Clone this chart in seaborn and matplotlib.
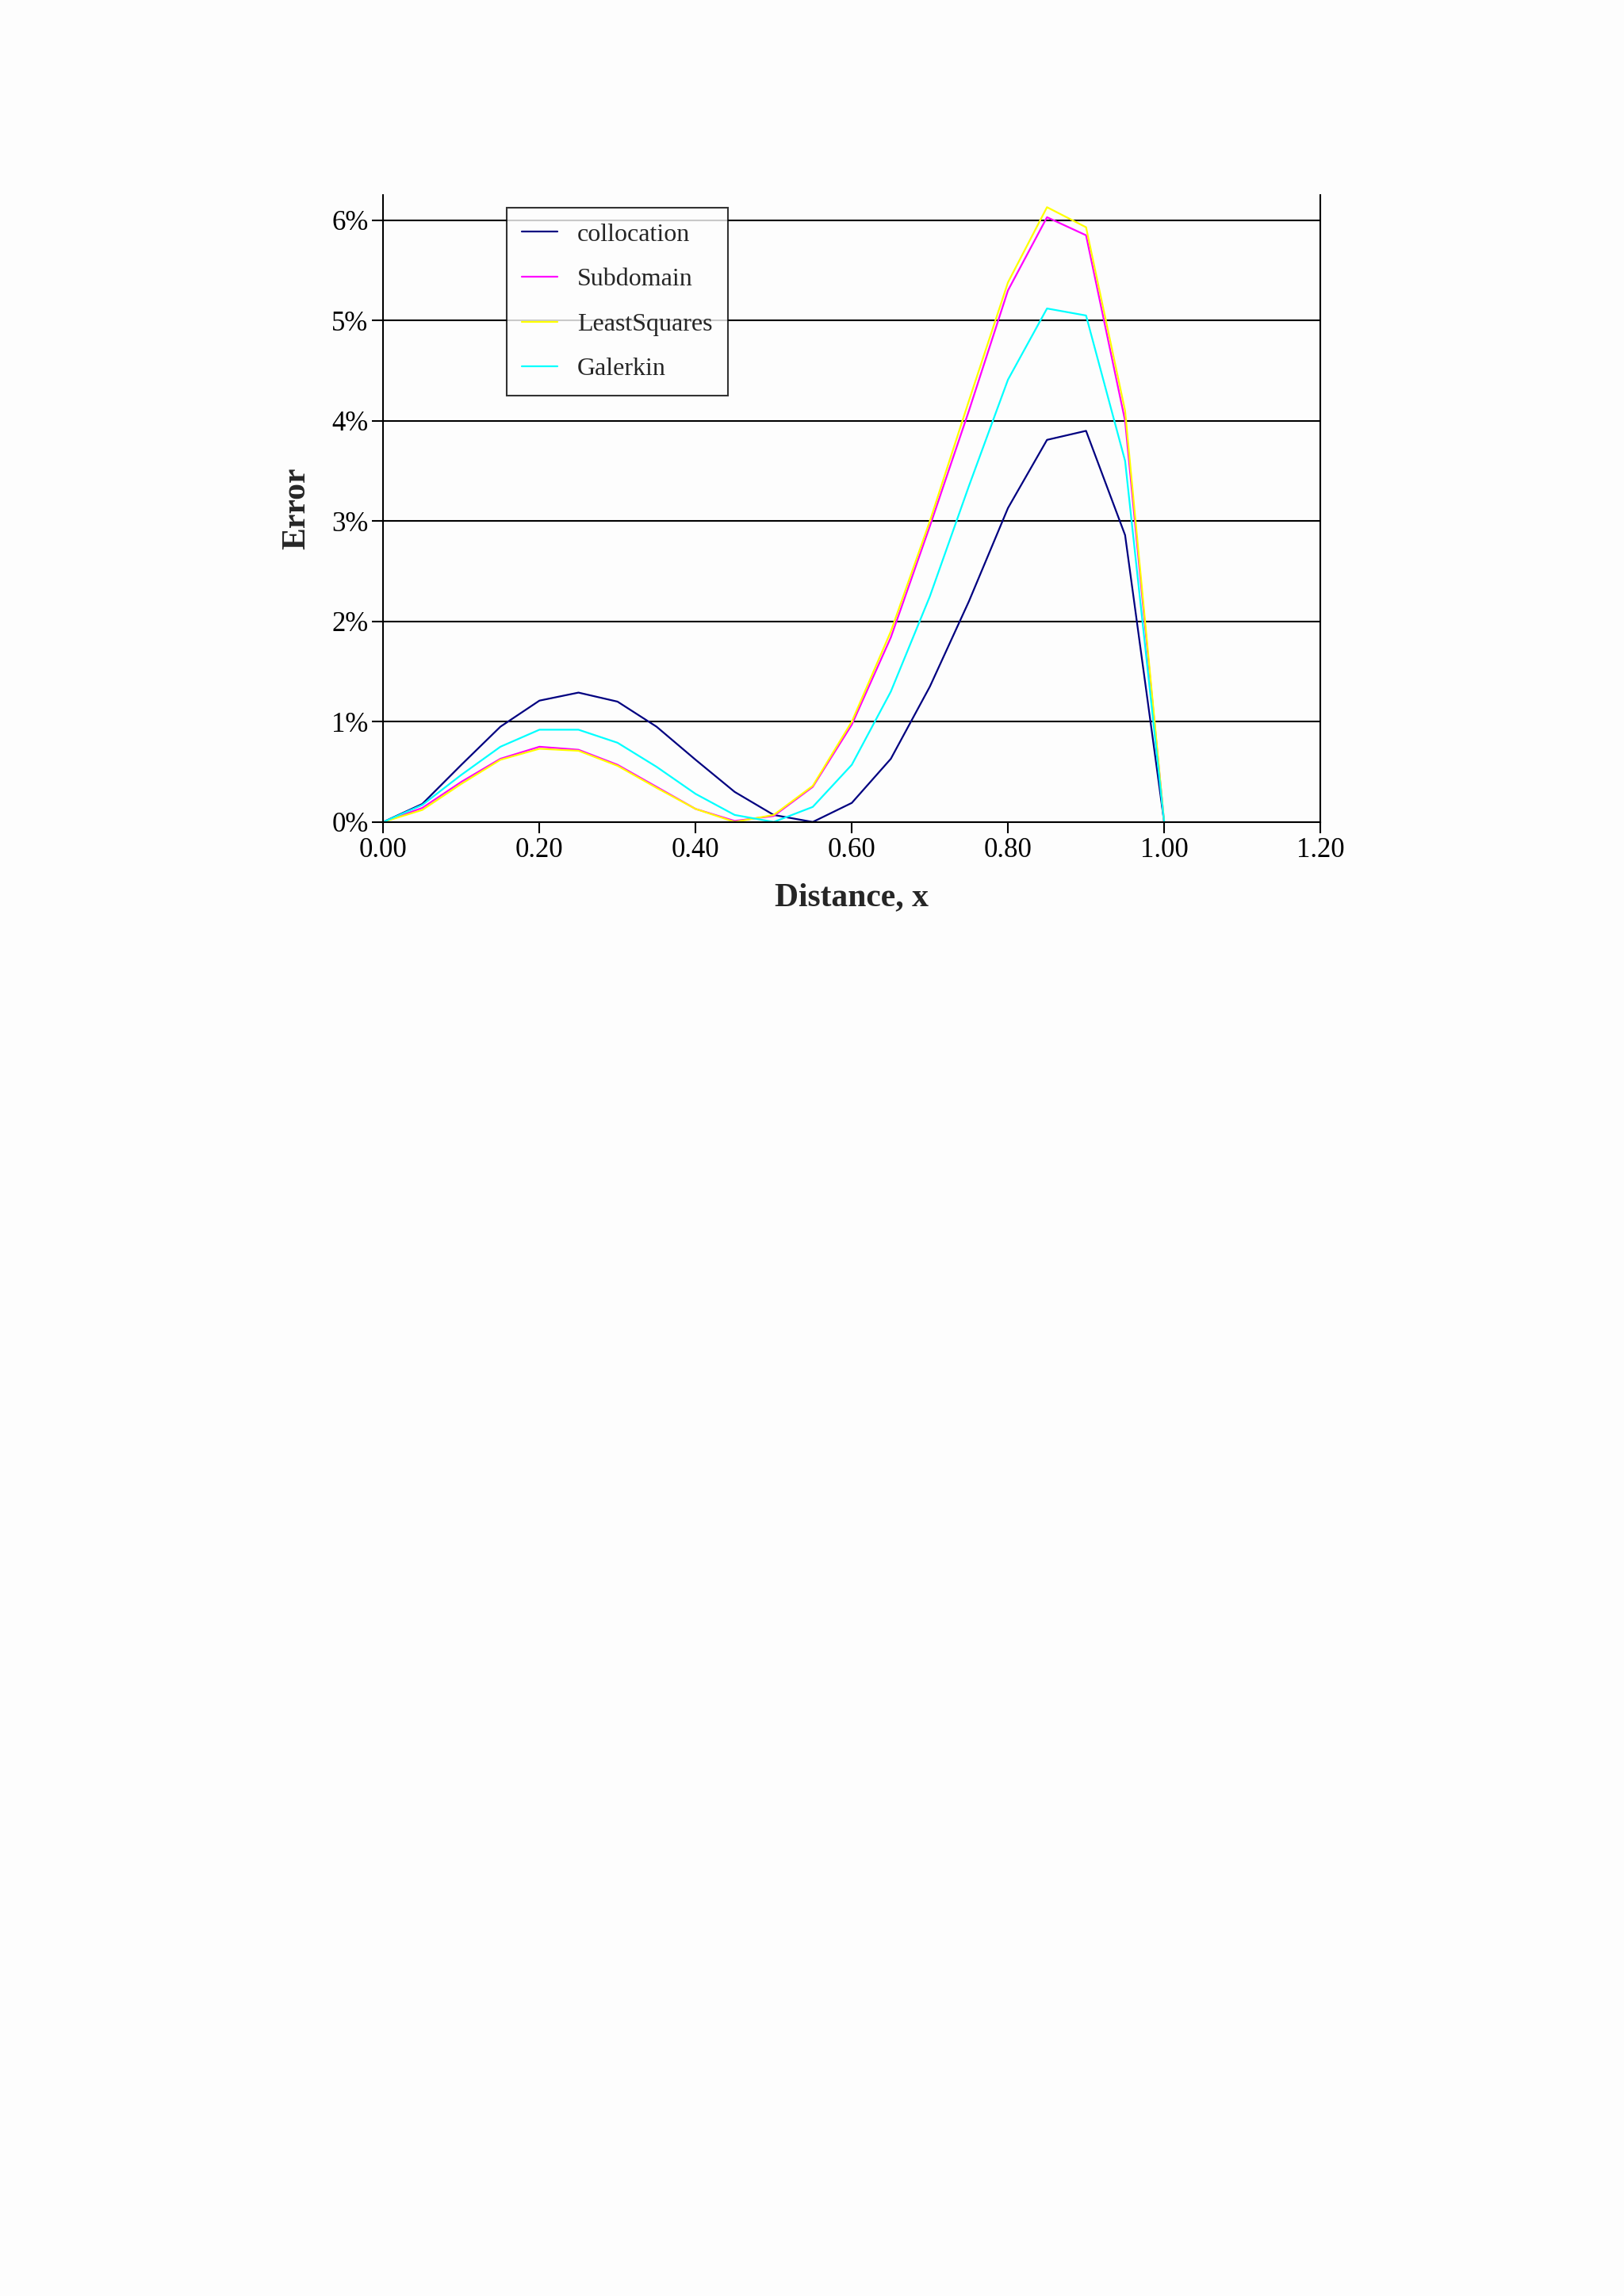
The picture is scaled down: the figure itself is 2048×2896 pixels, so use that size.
import numpy as np
import pandas as pd
import seaborn as sns
import matplotlib.pyplot as plt
from matplotlib.ticker import FuncFormatter

# Dados (erro em %)
distancia = [0.00, 0.05, 0.10, 0.15, 0.20, 0.25, 0.30, 0.35, 0.40, 0.45, 0.50,
             0.55, 0.60, 0.65, 0.70, 0.75, 0.80, 0.85, 0.90, 0.95, 1.00]
collocation = [0, 0.18, 0.57, 0.95, 1.21, 1.29, 1.20, 0.95, 0.62, 0.30, 0.07,
               0.0, 0.19, 0.63, 1.35, 2.20, 3.13, 3.81, 3.90, 2.86, 0]
subdomain = [0, 0.14, 0.40, 0.63, 0.75, 0.72, 0.57, 0.35, 0.13, 0.01, 0.06,
             0.35, 0.97, 1.84, 2.95, 4.10, 5.30, 6.03, 5.85, 4.00, 0]
least_squares = [0, 0.12, 0.38, 0.62, 0.73, 0.71, 0.56, 0.34, 0.13, 0.0, 0.07,
                 0.36, 1.00, 1.90, 3.00, 4.20, 5.38, 6.13, 5.93, 4.10, 0]
galerkin = [0, 0.17, 0.47, 0.75, 0.92, 0.92, 0.79, 0.55, 0.28, 0.07, 0.0,
            0.15, 0.57, 1.30, 2.25, 3.35, 4.41, 5.12, 5.05, 3.60, 0]

series = {'collocation': collocation, 'Subdomain': subdomain,
          'LeastSquares': least_squares, 'Galerkin': galerkin}
cores = ['#000080', '#ff00ff', '#ffff00', '#00ffff']

dados = pd.DataFrame([(x, nome, v) for nome, vals in series.items()
                      for x, v in zip(distancia, vals)],
                     columns=['x', 'metodo', 'erro'])

sns.set_style('white')
plt.rcParams['font.family'] = ['Liberation Serif', 'DejaVu Serif']

fig = plt.figure(figsize=(20.48, 28.96), dpi=100)
fig.patch.set_facecolor('#fdfdfd')
ax = fig.add_axes([0.236, 0.642, 0.577, 0.273])
ax.set_facecolor('#fdfdfd')

sns.lineplot(data=dados, x='x', y='erro', hue='metodo', palette=cores,
             linewidth=1.6, ax=ax, legend=True)

ax.set_xlim(0, 1.2)
ax.set_ylim(0, 6.25)
ax.set_xticks(np.arange(0, 1.21, 0.2))
ax.set_yticks(range(7))
ax.xaxis.set_major_formatter(FuncFormatter(lambda v, p: f'{v:.2f}'))
ax.yaxis.set_major_formatter(FuncFormatter(lambda v, p: f'{v:.0f}%'))
ax.grid(axis='y', color='black', linewidth=1.5)
ax.set_axisbelow(True)
for s in ['left', 'right', 'bottom']:
    ax.spines[s].set_color('black')
    ax.spines[s].set_linewidth(1.5)
ax.spines['top'].set_visible(False)
ax.tick_params(axis='both', direction='out', length=10, width=1.5,
               labelsize=25, colors='black', left=True, bottom=True)
ax.set_xlabel('Distance, x', fontsize=30, fontweight='bold', labelpad=18)
ax.set_ylabel('Error', fontsize=30, fontweight='bold', labelpad=18)

leg = ax.legend(loc='upper left', bbox_to_anchor=(0.118, 1.0), fontsize=23,
                frameon=True, fancybox=False, edgecolor='black',
                handlelength=1.4, labelspacing=0.85, borderpad=0.6)
leg.get_frame().set_linewidth(1.5)
leg.get_frame().set_facecolor('#fdfdfd')

fig.savefig('out.png', dpi=100, facecolor=fig.get_facecolor())
